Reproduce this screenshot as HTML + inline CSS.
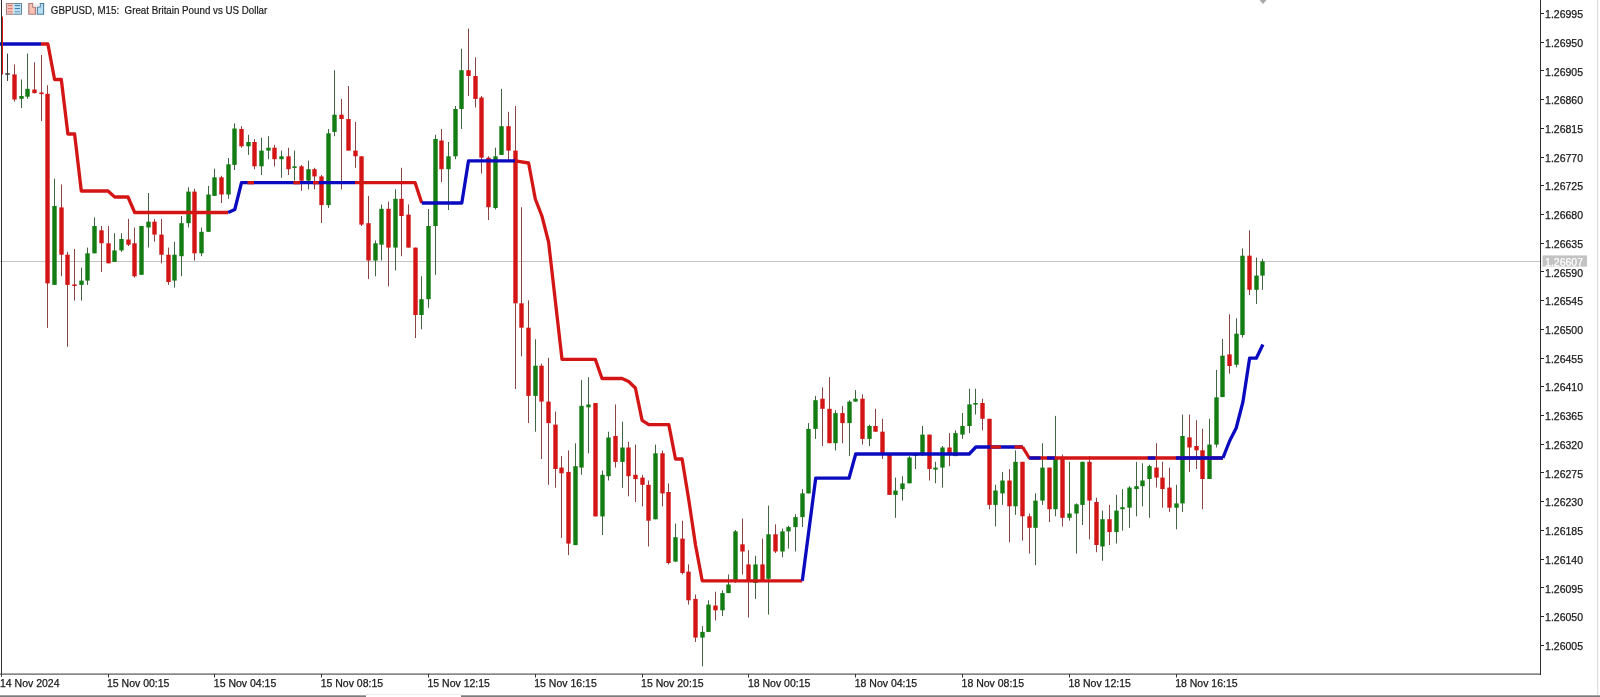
<!DOCTYPE html>
<html><head><meta charset="utf-8">
<style>
html,body{margin:0;padding:0;background:#fff;}
body{width:1600px;height:697px;overflow:hidden;position:relative;}
svg{position:absolute;left:0;top:0;will-change:transform;}
.t{font-family:"Liberation Sans",sans-serif;font-size:10.5px;fill:#1a1a1a;stroke:#1a1a1a;stroke-width:0.25px;}
.h{font-family:"Liberation Sans",sans-serif;font-size:10.5px;fill:#1a1a1a;stroke:#1a1a1a;stroke-width:0.2px;}
</style></head>
<body>
<svg width="1600" height="697" viewBox="0 0 1600 697">
<rect x="0" y="0" width="1600" height="697" fill="#ffffff"/>
<line x1="0" y1="261.5" x2="1540" y2="261.5" stroke="#c4c4c4" stroke-width="1"/>
<rect x="7" y="53.6" width="1" height="27.3" fill="#3a3a3a"/>
<rect x="5.30" y="73.2" width="4.4" height="1.6" fill="#3a3a3a"/>
<rect x="14" y="64.4" width="1" height="37.3" fill="#8a4444"/>
<rect x="12.30" y="74.4" width="4.4" height="25.1" fill="#d41515"/>
<rect x="21" y="79.5" width="1" height="28.5" fill="#436443"/>
<rect x="19.30" y="96.0" width="4.4" height="2.8" fill="#137c13"/>
<rect x="27" y="53.6" width="1" height="45.2" fill="#436443"/>
<rect x="25.30" y="88.8" width="4.4" height="7.9" fill="#137c13"/>
<rect x="34" y="62.2" width="1" height="31.2" fill="#8a4444"/>
<rect x="32.30" y="89.5" width="4.4" height="3.6" fill="#d41515"/>
<rect x="41" y="55.0" width="1" height="66.0" fill="#8a4444"/>
<rect x="39.30" y="92.5" width="4.4" height="1.6" fill="#d41515"/>
<rect x="47" y="85.2" width="1" height="242.7" fill="#8a4444"/>
<rect x="45.30" y="93.8" width="4.4" height="189.6" fill="#d41515"/>
<rect x="54" y="178.7" width="1" height="106.2" fill="#436443"/>
<rect x="52.30" y="206.0" width="4.4" height="78.9" fill="#137c13"/>
<rect x="61" y="184.4" width="1" height="91.9" fill="#8a4444"/>
<rect x="59.30" y="207.4" width="4.4" height="47.3" fill="#d41515"/>
<rect x="67" y="251.9" width="1" height="94.7" fill="#8a4444"/>
<rect x="65.30" y="254.7" width="4.4" height="30.2" fill="#d41515"/>
<rect x="74" y="249.0" width="1" height="51.6" fill="#8a4444"/>
<rect x="72.30" y="284.4" width="4.4" height="1.6" fill="#d41515"/>
<rect x="81" y="267.6" width="1" height="33.0" fill="#436443"/>
<rect x="79.30" y="280.6" width="4.4" height="4.3" fill="#137c13"/>
<rect x="87" y="247.6" width="1" height="37.3" fill="#436443"/>
<rect x="85.30" y="253.3" width="4.4" height="27.3" fill="#137c13"/>
<rect x="94" y="217.4" width="1" height="35.9" fill="#436443"/>
<rect x="92.30" y="226.0" width="4.4" height="27.3" fill="#137c13"/>
<rect x="101" y="226.0" width="1" height="46.0" fill="#8a4444"/>
<rect x="99.30" y="230.3" width="4.4" height="13.0" fill="#d41515"/>
<rect x="108" y="226.0" width="1" height="37.3" fill="#8a4444"/>
<rect x="106.30" y="243.3" width="4.4" height="20.0" fill="#d41515"/>
<rect x="114" y="233.2" width="1" height="28.7" fill="#436443"/>
<rect x="112.30" y="250.4" width="4.4" height="11.5" fill="#137c13"/>
<rect x="121" y="233.2" width="1" height="18.7" fill="#436443"/>
<rect x="119.30" y="239.0" width="4.4" height="11.4" fill="#137c13"/>
<rect x="128" y="218.9" width="1" height="27.1" fill="#8a4444"/>
<rect x="126.30" y="239.5" width="4.4" height="5.2" fill="#d41515"/>
<rect x="134" y="227.5" width="1" height="50.2" fill="#8a4444"/>
<rect x="132.30" y="243.3" width="4.4" height="33.0" fill="#d41515"/>
<rect x="141" y="226.0" width="1" height="48.8" fill="#436443"/>
<rect x="139.30" y="226.0" width="4.4" height="48.8" fill="#137c13"/>
<rect x="148" y="193.0" width="1" height="54.6" fill="#436443"/>
<rect x="146.30" y="221.7" width="4.4" height="5.8" fill="#137c13"/>
<rect x="154" y="218.9" width="1" height="22.9" fill="#8a4444"/>
<rect x="152.30" y="221.7" width="4.4" height="12.9" fill="#d41515"/>
<rect x="161" y="218.9" width="1" height="44.4" fill="#8a4444"/>
<rect x="159.30" y="234.6" width="4.4" height="20.1" fill="#d41515"/>
<rect x="168" y="247.6" width="1" height="37.3" fill="#8a4444"/>
<rect x="166.30" y="254.7" width="4.4" height="27.3" fill="#d41515"/>
<rect x="174" y="241.8" width="1" height="45.9" fill="#436443"/>
<rect x="172.30" y="254.7" width="4.4" height="25.9" fill="#137c13"/>
<rect x="181" y="216.0" width="1" height="60.3" fill="#436443"/>
<rect x="179.30" y="223.2" width="4.4" height="33.0" fill="#137c13"/>
<rect x="188" y="187.3" width="1" height="40.2" fill="#436443"/>
<rect x="186.30" y="191.6" width="4.4" height="31.6" fill="#137c13"/>
<rect x="194" y="188.7" width="1" height="71.8" fill="#8a4444"/>
<rect x="192.30" y="191.6" width="4.4" height="61.7" fill="#d41515"/>
<rect x="201" y="227.5" width="1" height="28.7" fill="#436443"/>
<rect x="199.30" y="231.8" width="4.4" height="21.5" fill="#137c13"/>
<rect x="208" y="185.9" width="1" height="45.9" fill="#436443"/>
<rect x="206.30" y="194.5" width="4.4" height="37.3" fill="#137c13"/>
<rect x="214" y="168.7" width="1" height="27.2" fill="#436443"/>
<rect x="212.30" y="177.3" width="4.4" height="18.6" fill="#137c13"/>
<rect x="221" y="175.8" width="1" height="27.2" fill="#8a4444"/>
<rect x="219.30" y="177.3" width="4.4" height="17.2" fill="#d41515"/>
<rect x="228" y="158.0" width="1" height="40.8" fill="#436443"/>
<rect x="226.30" y="164.3" width="4.4" height="30.2" fill="#137c13"/>
<rect x="234" y="123.3" width="1" height="46.7" fill="#436443"/>
<rect x="232.30" y="128.5" width="4.4" height="36.4" fill="#137c13"/>
<rect x="241" y="126.2" width="1" height="21.5" fill="#8a4444"/>
<rect x="239.30" y="129.0" width="4.4" height="17.3" fill="#d41515"/>
<rect x="248" y="134.8" width="1" height="20.1" fill="#436443"/>
<rect x="246.30" y="142.0" width="4.4" height="4.3" fill="#137c13"/>
<rect x="254" y="139.1" width="1" height="30.1" fill="#8a4444"/>
<rect x="252.30" y="142.0" width="4.4" height="24.3" fill="#d41515"/>
<rect x="261" y="137.6" width="1" height="37.4" fill="#436443"/>
<rect x="259.30" y="150.6" width="4.4" height="15.7" fill="#137c13"/>
<rect x="268" y="136.2" width="1" height="23.0" fill="#436443"/>
<rect x="266.30" y="147.7" width="4.4" height="2.9" fill="#137c13"/>
<rect x="274" y="144.8" width="1" height="21.5" fill="#8a4444"/>
<rect x="272.30" y="147.7" width="4.4" height="11.5" fill="#d41515"/>
<rect x="281" y="150.6" width="1" height="27.2" fill="#436443"/>
<rect x="279.30" y="156.3" width="4.4" height="2.9" fill="#137c13"/>
<rect x="288" y="147.7" width="1" height="27.3" fill="#8a4444"/>
<rect x="286.30" y="156.3" width="4.4" height="12.9" fill="#d41515"/>
<rect x="294" y="150.6" width="1" height="30.1" fill="#436443"/>
<rect x="292.30" y="166.3" width="4.4" height="1.6" fill="#137c13"/>
<rect x="301" y="164.9" width="1" height="25.8" fill="#8a4444"/>
<rect x="299.30" y="166.3" width="4.4" height="14.4" fill="#d41515"/>
<rect x="308" y="160.6" width="1" height="28.7" fill="#436443"/>
<rect x="306.30" y="169.2" width="4.4" height="11.5" fill="#137c13"/>
<rect x="314" y="167.8" width="1" height="21.5" fill="#8a4444"/>
<rect x="312.30" y="169.2" width="4.4" height="7.2" fill="#d41515"/>
<rect x="321" y="175.0" width="1" height="48.0" fill="#8a4444"/>
<rect x="319.30" y="176.4" width="4.4" height="28.7" fill="#d41515"/>
<rect x="328" y="129.0" width="1" height="79.0" fill="#436443"/>
<rect x="326.30" y="133.3" width="4.4" height="71.8" fill="#137c13"/>
<rect x="334" y="70.2" width="1" height="66.0" fill="#436443"/>
<rect x="332.30" y="114.7" width="4.4" height="17.2" fill="#137c13"/>
<rect x="341" y="98.9" width="1" height="90.4" fill="#8a4444"/>
<rect x="339.30" y="114.7" width="4.4" height="4.3" fill="#d41515"/>
<rect x="348" y="86.0" width="1" height="64.6" fill="#8a4444"/>
<rect x="346.30" y="119.0" width="4.4" height="31.6" fill="#d41515"/>
<rect x="355" y="121.9" width="1" height="45.9" fill="#8a4444"/>
<rect x="353.30" y="150.6" width="4.4" height="5.7" fill="#d41515"/>
<rect x="361" y="156.3" width="1" height="69.7" fill="#8a4444"/>
<rect x="359.30" y="156.3" width="4.4" height="68.3" fill="#d41515"/>
<rect x="368" y="195.9" width="1" height="83.2" fill="#8a4444"/>
<rect x="366.30" y="223.2" width="4.4" height="37.3" fill="#d41515"/>
<rect x="375" y="240.4" width="1" height="35.9" fill="#436443"/>
<rect x="373.30" y="243.3" width="4.4" height="17.2" fill="#137c13"/>
<rect x="381" y="204.5" width="1" height="56.0" fill="#436443"/>
<rect x="379.30" y="208.8" width="4.4" height="35.9" fill="#137c13"/>
<rect x="388" y="201.6" width="1" height="84.7" fill="#8a4444"/>
<rect x="386.30" y="208.8" width="4.4" height="38.8" fill="#d41515"/>
<rect x="395" y="189.3" width="1" height="81.2" fill="#436443"/>
<rect x="393.30" y="198.8" width="4.4" height="48.8" fill="#137c13"/>
<rect x="401" y="167.8" width="1" height="88.4" fill="#8a4444"/>
<rect x="399.30" y="198.8" width="4.4" height="17.2" fill="#d41515"/>
<rect x="408" y="204.5" width="1" height="43.1" fill="#8a4444"/>
<rect x="406.30" y="214.6" width="4.4" height="33.0" fill="#d41515"/>
<rect x="415" y="247.6" width="1" height="90.4" fill="#8a4444"/>
<rect x="413.30" y="247.6" width="4.4" height="67.4" fill="#d41515"/>
<rect x="421" y="276.3" width="1" height="53.0" fill="#436443"/>
<rect x="419.30" y="299.2" width="4.4" height="15.8" fill="#137c13"/>
<rect x="428" y="209.0" width="1" height="98.8" fill="#436443"/>
<rect x="426.30" y="226.0" width="4.4" height="73.2" fill="#137c13"/>
<rect x="435" y="134.8" width="1" height="140.0" fill="#436443"/>
<rect x="433.30" y="139.0" width="4.4" height="87.0" fill="#137c13"/>
<rect x="441" y="129.0" width="1" height="53.1" fill="#8a4444"/>
<rect x="439.30" y="140.5" width="4.4" height="28.7" fill="#d41515"/>
<rect x="448" y="142.0" width="1" height="68.0" fill="#436443"/>
<rect x="446.30" y="156.3" width="4.4" height="12.9" fill="#137c13"/>
<rect x="455" y="106.0" width="1" height="53.2" fill="#436443"/>
<rect x="453.30" y="109.0" width="4.4" height="47.3" fill="#137c13"/>
<rect x="461" y="48.7" width="1" height="80.3" fill="#436443"/>
<rect x="459.30" y="70.2" width="4.4" height="38.8" fill="#137c13"/>
<rect x="468" y="28.6" width="1" height="67.4" fill="#8a4444"/>
<rect x="466.30" y="70.2" width="4.4" height="5.8" fill="#d41515"/>
<rect x="475" y="57.3" width="1" height="50.2" fill="#8a4444"/>
<rect x="473.30" y="76.0" width="4.4" height="22.9" fill="#d41515"/>
<rect x="481" y="96.0" width="1" height="77.5" fill="#8a4444"/>
<rect x="479.30" y="97.5" width="4.4" height="60.2" fill="#d41515"/>
<rect x="488" y="156.3" width="1" height="63.7" fill="#8a4444"/>
<rect x="486.30" y="157.7" width="4.4" height="49.5" fill="#d41515"/>
<rect x="495" y="147.7" width="1" height="61.7" fill="#436443"/>
<rect x="493.30" y="156.3" width="4.4" height="51.7" fill="#137c13"/>
<rect x="501" y="88.9" width="1" height="66.0" fill="#436443"/>
<rect x="499.30" y="126.2" width="4.4" height="28.7" fill="#137c13"/>
<rect x="508" y="111.8" width="1" height="48.8" fill="#8a4444"/>
<rect x="506.30" y="126.2" width="4.4" height="24.4" fill="#d41515"/>
<rect x="515" y="106.0" width="1" height="283.0" fill="#8a4444"/>
<rect x="513.30" y="150.6" width="4.4" height="152.7" fill="#d41515"/>
<rect x="521" y="207.2" width="1" height="149.2" fill="#8a4444"/>
<rect x="519.30" y="303.3" width="4.4" height="24.4" fill="#d41515"/>
<rect x="528" y="300.4" width="1" height="122.7" fill="#8a4444"/>
<rect x="526.30" y="327.7" width="4.4" height="68.2" fill="#d41515"/>
<rect x="535" y="339.2" width="1" height="92.5" fill="#436443"/>
<rect x="533.30" y="365.7" width="4.4" height="30.2" fill="#137c13"/>
<rect x="541" y="363.6" width="1" height="95.4" fill="#8a4444"/>
<rect x="539.30" y="365.7" width="4.4" height="35.9" fill="#d41515"/>
<rect x="548" y="357.8" width="1" height="127.0" fill="#8a4444"/>
<rect x="546.30" y="401.6" width="4.4" height="21.5" fill="#d41515"/>
<rect x="555" y="411.6" width="1" height="76.1" fill="#8a4444"/>
<rect x="553.30" y="424.6" width="4.4" height="44.4" fill="#d41515"/>
<rect x="561" y="456.1" width="1" height="81.8" fill="#8a4444"/>
<rect x="559.30" y="467.6" width="4.4" height="5.7" fill="#d41515"/>
<rect x="568" y="450.4" width="1" height="104.7" fill="#8a4444"/>
<rect x="566.30" y="471.9" width="4.4" height="71.7" fill="#d41515"/>
<rect x="575" y="443.2" width="1" height="101.9" fill="#436443"/>
<rect x="573.30" y="466.2" width="4.4" height="78.9" fill="#137c13"/>
<rect x="581" y="380.1" width="1" height="94.7" fill="#436443"/>
<rect x="579.30" y="405.9" width="4.4" height="61.7" fill="#137c13"/>
<rect x="588" y="377.2" width="1" height="76.1" fill="#436443"/>
<rect x="586.30" y="404.5" width="4.4" height="2.8" fill="#137c13"/>
<rect x="595" y="403.0" width="1" height="113.4" fill="#8a4444"/>
<rect x="593.30" y="403.0" width="4.4" height="113.4" fill="#d41515"/>
<rect x="602" y="470.5" width="1" height="64.5" fill="#436443"/>
<rect x="600.30" y="474.8" width="4.4" height="41.6" fill="#137c13"/>
<rect x="608" y="431.7" width="1" height="48.8" fill="#436443"/>
<rect x="606.30" y="437.5" width="4.4" height="38.7" fill="#137c13"/>
<rect x="615" y="404.5" width="1" height="63.1" fill="#8a4444"/>
<rect x="613.30" y="436.0" width="4.4" height="25.9" fill="#d41515"/>
<rect x="622" y="421.7" width="1" height="66.0" fill="#436443"/>
<rect x="620.30" y="447.5" width="4.4" height="14.4" fill="#137c13"/>
<rect x="628" y="441.8" width="1" height="54.5" fill="#8a4444"/>
<rect x="626.30" y="447.5" width="4.4" height="28.7" fill="#d41515"/>
<rect x="635" y="444.6" width="1" height="57.4" fill="#8a4444"/>
<rect x="633.30" y="474.8" width="4.4" height="4.3" fill="#d41515"/>
<rect x="642" y="474.8" width="1" height="31.5" fill="#8a4444"/>
<rect x="640.30" y="477.6" width="4.4" height="7.2" fill="#d41515"/>
<rect x="648" y="480.5" width="1" height="66.0" fill="#8a4444"/>
<rect x="646.30" y="484.8" width="4.4" height="35.9" fill="#d41515"/>
<rect x="655" y="444.6" width="1" height="74.7" fill="#436443"/>
<rect x="653.30" y="453.3" width="4.4" height="66.0" fill="#137c13"/>
<rect x="662" y="450.4" width="1" height="55.9" fill="#8a4444"/>
<rect x="660.30" y="453.3" width="4.4" height="40.1" fill="#d41515"/>
<rect x="668" y="483.4" width="1" height="81.0" fill="#8a4444"/>
<rect x="666.30" y="492.0" width="4.4" height="71.0" fill="#d41515"/>
<rect x="675" y="523.6" width="1" height="38.0" fill="#436443"/>
<rect x="673.30" y="537.2" width="4.4" height="24.4" fill="#137c13"/>
<rect x="682" y="520.7" width="1" height="53.8" fill="#8a4444"/>
<rect x="680.30" y="538.6" width="4.4" height="34.4" fill="#d41515"/>
<rect x="688" y="564.4" width="1" height="40.2" fill="#8a4444"/>
<rect x="686.30" y="571.6" width="4.4" height="28.7" fill="#d41515"/>
<rect x="695" y="594.6" width="1" height="47.3" fill="#8a4444"/>
<rect x="693.30" y="598.9" width="4.4" height="38.7" fill="#d41515"/>
<rect x="702" y="626.1" width="1" height="40.2" fill="#436443"/>
<rect x="700.30" y="631.9" width="4.4" height="5.7" fill="#137c13"/>
<rect x="708" y="600.3" width="1" height="31.6" fill="#436443"/>
<rect x="706.30" y="604.6" width="4.4" height="27.3" fill="#137c13"/>
<rect x="715" y="591.7" width="1" height="28.7" fill="#8a4444"/>
<rect x="713.30" y="605.5" width="4.4" height="4.8" fill="#d41515"/>
<rect x="722" y="590.3" width="1" height="25.8" fill="#436443"/>
<rect x="720.30" y="593.1" width="4.4" height="17.2" fill="#137c13"/>
<rect x="728" y="574.5" width="1" height="18.6" fill="#436443"/>
<rect x="726.30" y="584.5" width="4.4" height="8.6" fill="#137c13"/>
<rect x="735" y="530.0" width="1" height="53.0" fill="#436443"/>
<rect x="733.30" y="531.4" width="4.4" height="50.2" fill="#137c13"/>
<rect x="742" y="518.5" width="1" height="56.0" fill="#8a4444"/>
<rect x="740.30" y="544.3" width="4.4" height="7.2" fill="#d41515"/>
<rect x="748" y="550.1" width="1" height="67.4" fill="#8a4444"/>
<rect x="746.30" y="564.4" width="4.4" height="17.2" fill="#d41515"/>
<rect x="755" y="555.8" width="1" height="43.1" fill="#436443"/>
<rect x="753.30" y="564.4" width="4.4" height="18.6" fill="#137c13"/>
<rect x="762" y="538.6" width="1" height="43.0" fill="#8a4444"/>
<rect x="760.30" y="564.4" width="4.4" height="17.2" fill="#d41515"/>
<rect x="768" y="505.6" width="1" height="109.0" fill="#436443"/>
<rect x="766.30" y="534.3" width="4.4" height="44.5" fill="#137c13"/>
<rect x="775" y="524.3" width="1" height="28.7" fill="#8a4444"/>
<rect x="773.30" y="534.3" width="4.4" height="17.2" fill="#d41515"/>
<rect x="782" y="528.6" width="1" height="28.7" fill="#436443"/>
<rect x="780.30" y="531.4" width="4.4" height="20.1" fill="#137c13"/>
<rect x="788" y="525.7" width="1" height="22.9" fill="#436443"/>
<rect x="786.30" y="527.1" width="4.4" height="4.3" fill="#137c13"/>
<rect x="795" y="514.2" width="1" height="37.3" fill="#436443"/>
<rect x="793.30" y="517.1" width="4.4" height="10.0" fill="#137c13"/>
<rect x="802" y="489.1" width="1" height="38.0" fill="#436443"/>
<rect x="800.30" y="493.4" width="4.4" height="23.7" fill="#137c13"/>
<rect x="808" y="423.1" width="1" height="70.3" fill="#436443"/>
<rect x="806.30" y="428.9" width="4.4" height="64.5" fill="#137c13"/>
<rect x="815" y="395.9" width="1" height="43.0" fill="#436443"/>
<rect x="813.30" y="400.2" width="4.4" height="28.7" fill="#137c13"/>
<rect x="822" y="387.3" width="1" height="58.7" fill="#8a4444"/>
<rect x="820.30" y="398.7" width="4.4" height="10.1" fill="#d41515"/>
<rect x="829" y="377.2" width="1" height="66.0" fill="#8a4444"/>
<rect x="827.30" y="408.8" width="4.4" height="34.4" fill="#d41515"/>
<rect x="835" y="410.2" width="1" height="40.2" fill="#436443"/>
<rect x="833.30" y="413.1" width="4.4" height="30.1" fill="#137c13"/>
<rect x="842" y="405.9" width="1" height="37.3" fill="#8a4444"/>
<rect x="840.30" y="413.1" width="4.4" height="10.0" fill="#d41515"/>
<rect x="849" y="400.2" width="1" height="55.9" fill="#436443"/>
<rect x="847.30" y="401.6" width="4.4" height="21.5" fill="#137c13"/>
<rect x="855" y="390.1" width="1" height="11.5" fill="#436443"/>
<rect x="853.30" y="398.7" width="4.4" height="2.9" fill="#137c13"/>
<rect x="862" y="394.4" width="1" height="50.2" fill="#8a4444"/>
<rect x="860.30" y="398.7" width="4.4" height="40.2" fill="#d41515"/>
<rect x="869" y="424.6" width="1" height="21.4" fill="#436443"/>
<rect x="867.30" y="426.0" width="4.4" height="12.9" fill="#137c13"/>
<rect x="875" y="408.8" width="1" height="22.9" fill="#8a4444"/>
<rect x="873.30" y="426.0" width="4.4" height="5.7" fill="#d41515"/>
<rect x="882" y="418.8" width="1" height="40.2" fill="#8a4444"/>
<rect x="880.30" y="431.7" width="4.4" height="23.0" fill="#d41515"/>
<rect x="889" y="454.7" width="1" height="40.2" fill="#8a4444"/>
<rect x="887.30" y="454.7" width="4.4" height="40.2" fill="#d41515"/>
<rect x="895" y="477.6" width="1" height="40.2" fill="#436443"/>
<rect x="893.30" y="490.6" width="4.4" height="4.3" fill="#137c13"/>
<rect x="902" y="476.2" width="1" height="24.4" fill="#436443"/>
<rect x="900.30" y="483.4" width="4.4" height="5.7" fill="#137c13"/>
<rect x="909" y="456.1" width="1" height="27.2" fill="#436443"/>
<rect x="907.30" y="457.5" width="4.4" height="25.8" fill="#137c13"/>
<rect x="915" y="454.0" width="1" height="15.0" fill="#436443"/>
<rect x="913.30" y="454.0" width="4.4" height="2.0" fill="#137c13"/>
<rect x="922" y="426.0" width="1" height="30.0" fill="#436443"/>
<rect x="920.30" y="434.6" width="4.4" height="20.0" fill="#137c13"/>
<rect x="929" y="434.6" width="1" height="45.9" fill="#8a4444"/>
<rect x="927.30" y="434.6" width="4.4" height="34.4" fill="#d41515"/>
<rect x="935" y="461.8" width="1" height="21.5" fill="#436443"/>
<rect x="933.30" y="467.6" width="4.4" height="2.0" fill="#137c13"/>
<rect x="942" y="446.0" width="1" height="41.6" fill="#436443"/>
<rect x="940.30" y="447.5" width="4.4" height="20.1" fill="#137c13"/>
<rect x="949" y="433.1" width="1" height="33.0" fill="#8a4444"/>
<rect x="947.30" y="447.5" width="4.4" height="7.1" fill="#d41515"/>
<rect x="955" y="430.3" width="1" height="25.8" fill="#436443"/>
<rect x="953.30" y="433.1" width="4.4" height="23.0" fill="#137c13"/>
<rect x="962" y="413.0" width="1" height="25.9" fill="#436443"/>
<rect x="960.30" y="426.0" width="4.4" height="8.6" fill="#137c13"/>
<rect x="969" y="388.7" width="1" height="44.4" fill="#436443"/>
<rect x="967.30" y="404.4" width="4.4" height="21.6" fill="#137c13"/>
<rect x="975" y="388.7" width="1" height="25.8" fill="#436443"/>
<rect x="973.30" y="403.0" width="4.4" height="1.6" fill="#137c13"/>
<rect x="982" y="398.7" width="1" height="31.6" fill="#8a4444"/>
<rect x="980.30" y="403.0" width="4.4" height="15.8" fill="#d41515"/>
<rect x="989" y="418.8" width="1" height="90.4" fill="#8a4444"/>
<rect x="987.30" y="418.8" width="4.4" height="86.1" fill="#d41515"/>
<rect x="995" y="484.8" width="1" height="41.6" fill="#436443"/>
<rect x="993.30" y="490.5" width="4.4" height="14.4" fill="#137c13"/>
<rect x="1002" y="471.9" width="1" height="33.0" fill="#436443"/>
<rect x="1000.30" y="480.5" width="4.4" height="12.9" fill="#137c13"/>
<rect x="1009" y="469.0" width="1" height="73.2" fill="#8a4444"/>
<rect x="1007.30" y="480.5" width="4.4" height="25.8" fill="#d41515"/>
<rect x="1015" y="450.3" width="1" height="64.6" fill="#436443"/>
<rect x="1013.30" y="461.8" width="4.4" height="44.5" fill="#137c13"/>
<rect x="1022" y="461.8" width="1" height="78.9" fill="#8a4444"/>
<rect x="1020.30" y="461.8" width="4.4" height="54.5" fill="#d41515"/>
<rect x="1029" y="513.5" width="1" height="40.1" fill="#8a4444"/>
<rect x="1027.30" y="516.3" width="4.4" height="11.5" fill="#d41515"/>
<rect x="1035" y="493.4" width="1" height="71.7" fill="#436443"/>
<rect x="1033.30" y="500.6" width="4.4" height="27.2" fill="#137c13"/>
<rect x="1042" y="443.2" width="1" height="61.7" fill="#436443"/>
<rect x="1040.30" y="467.6" width="4.4" height="33.0" fill="#137c13"/>
<rect x="1049" y="467.6" width="1" height="54.5" fill="#8a4444"/>
<rect x="1047.30" y="467.6" width="4.4" height="41.6" fill="#d41515"/>
<rect x="1055" y="415.9" width="1" height="100.4" fill="#436443"/>
<rect x="1053.30" y="459.0" width="4.4" height="50.2" fill="#137c13"/>
<rect x="1062" y="454.6" width="1" height="71.8" fill="#8a4444"/>
<rect x="1060.30" y="457.5" width="4.4" height="60.3" fill="#d41515"/>
<rect x="1069" y="461.8" width="1" height="58.8" fill="#436443"/>
<rect x="1067.30" y="513.5" width="4.4" height="4.3" fill="#137c13"/>
<rect x="1076" y="503.4" width="1" height="50.2" fill="#436443"/>
<rect x="1074.30" y="504.3" width="4.4" height="9.2" fill="#137c13"/>
<rect x="1082" y="461.8" width="1" height="63.2" fill="#436443"/>
<rect x="1080.30" y="461.8" width="4.4" height="43.1" fill="#137c13"/>
<rect x="1089" y="456.1" width="1" height="83.2" fill="#8a4444"/>
<rect x="1087.30" y="461.8" width="4.4" height="38.8" fill="#d41515"/>
<rect x="1096" y="497.7" width="1" height="54.5" fill="#8a4444"/>
<rect x="1094.30" y="502.0" width="4.4" height="43.0" fill="#d41515"/>
<rect x="1102" y="510.6" width="1" height="50.2" fill="#436443"/>
<rect x="1100.30" y="519.2" width="4.4" height="27.3" fill="#137c13"/>
<rect x="1109" y="504.9" width="1" height="40.1" fill="#8a4444"/>
<rect x="1107.30" y="519.2" width="4.4" height="12.9" fill="#d41515"/>
<rect x="1116" y="494.8" width="1" height="48.8" fill="#436443"/>
<rect x="1114.30" y="510.6" width="4.4" height="21.5" fill="#137c13"/>
<rect x="1122" y="489.1" width="1" height="41.6" fill="#436443"/>
<rect x="1120.30" y="507.2" width="4.4" height="2.0" fill="#137c13"/>
<rect x="1129" y="486.2" width="1" height="41.6" fill="#436443"/>
<rect x="1127.30" y="487.6" width="4.4" height="20.1" fill="#137c13"/>
<rect x="1136" y="461.8" width="1" height="54.5" fill="#436443"/>
<rect x="1134.30" y="486.2" width="4.4" height="2.9" fill="#137c13"/>
<rect x="1142" y="463.3" width="1" height="43.0" fill="#436443"/>
<rect x="1140.30" y="480.5" width="4.4" height="5.7" fill="#137c13"/>
<rect x="1149" y="464.7" width="1" height="53.1" fill="#436443"/>
<rect x="1147.30" y="466.1" width="4.4" height="12.9" fill="#137c13"/>
<rect x="1156" y="443.2" width="1" height="44.4" fill="#8a4444"/>
<rect x="1154.30" y="467.6" width="4.4" height="10.0" fill="#d41515"/>
<rect x="1162" y="461.8" width="1" height="45.9" fill="#8a4444"/>
<rect x="1160.30" y="477.6" width="4.4" height="11.5" fill="#d41515"/>
<rect x="1169" y="467.6" width="1" height="44.4" fill="#8a4444"/>
<rect x="1167.30" y="487.6" width="4.4" height="20.1" fill="#d41515"/>
<rect x="1176" y="484.8" width="1" height="44.5" fill="#436443"/>
<rect x="1174.30" y="503.4" width="4.4" height="4.3" fill="#137c13"/>
<rect x="1182" y="414.5" width="1" height="97.5" fill="#436443"/>
<rect x="1180.30" y="436.0" width="4.4" height="67.4" fill="#137c13"/>
<rect x="1189" y="414.5" width="1" height="57.4" fill="#8a4444"/>
<rect x="1187.30" y="437.4" width="4.4" height="10.1" fill="#d41515"/>
<rect x="1196" y="420.2" width="1" height="48.8" fill="#8a4444"/>
<rect x="1194.30" y="446.0" width="4.4" height="4.3" fill="#d41515"/>
<rect x="1202" y="428.8" width="1" height="80.4" fill="#8a4444"/>
<rect x="1200.30" y="450.3" width="4.4" height="28.7" fill="#d41515"/>
<rect x="1209" y="418.8" width="1" height="60.2" fill="#436443"/>
<rect x="1207.30" y="444.6" width="4.4" height="34.4" fill="#137c13"/>
<rect x="1216" y="369.9" width="1" height="77.6" fill="#436443"/>
<rect x="1214.30" y="397.3" width="4.4" height="47.3" fill="#137c13"/>
<rect x="1222" y="338.9" width="1" height="58.4" fill="#436443"/>
<rect x="1220.30" y="355.7" width="4.4" height="41.3" fill="#137c13"/>
<rect x="1229" y="314.3" width="1" height="59.4" fill="#8a4444"/>
<rect x="1227.30" y="354.4" width="4.4" height="11.6" fill="#d41515"/>
<rect x="1236" y="318.2" width="1" height="49.1" fill="#436443"/>
<rect x="1234.30" y="333.7" width="4.4" height="31.0" fill="#137c13"/>
<rect x="1242" y="248.4" width="1" height="89.2" fill="#436443"/>
<rect x="1240.30" y="255.7" width="4.4" height="79.3" fill="#137c13"/>
<rect x="1249" y="230.3" width="1" height="64.6" fill="#8a4444"/>
<rect x="1247.30" y="255.7" width="4.4" height="34.1" fill="#d41515"/>
<rect x="1256" y="257.5" width="1" height="46.5" fill="#436443"/>
<rect x="1254.30" y="275.6" width="4.4" height="14.2" fill="#137c13"/>
<rect x="1262" y="258.8" width="1" height="31.0" fill="#436443"/>
<rect x="1260.30" y="261.3" width="4.4" height="14.3" fill="#137c13"/>
<polyline points="0.0,44.0 41.0,44.0" fill="none" stroke="#0a0ac0" stroke-width="3.3" stroke-linejoin="round" stroke-linecap="butt" />
<polyline points="41.0,44.0 47.9,44.0 54.6,79.5 61.3,79.5 67.9,134.0 74.6,134.0 81.3,191.0 108.0,191.0 114.7,197.0 128.0,197.0 134.7,212.5 228.2,212.5" fill="none" stroke="#d41515" stroke-width="3.3" stroke-linejoin="round" stroke-linecap="butt" />
<polyline points="228.2,212.5 234.8,209.5 241.5,182.7 355.0,182.7" fill="none" stroke="#0a0ac0" stroke-width="3.3" stroke-linejoin="round" stroke-linecap="butt" />
<line x1="247.5" y1="182.7" x2="254" y2="182.7" stroke="#d41515" stroke-width="3.3"/>
<line x1="293.4" y1="182.7" x2="300" y2="182.7" stroke="#d41515" stroke-width="3.3"/>
<line x1="313" y1="182.7" x2="318.7" y2="182.7" stroke="#d41515" stroke-width="3.3"/>
<polyline points="355.0,182.7 415.1,182.7 421.8,203.0" fill="none" stroke="#d41515" stroke-width="3.3" stroke-linejoin="round" stroke-linecap="butt" />
<polyline points="421.8,203.0 461.8,203.0 468.5,160.8 515.2,160.8" fill="none" stroke="#0a0ac0" stroke-width="3.3" stroke-linejoin="round" stroke-linecap="butt" />
<polyline points="515.2,160.8 528.6,163.0 535.3,199.0 541.9,216.0 548.6,242.0 562.0,359.3 595.3,359.3 602.0,378.5 622.1,378.5 628.7,381.5 635.4,388.0 642.1,420.3 648.8,424.6 668.8,424.6 675.5,459.0 682.1,459.0 688.8,500.0 695.5,545.0 702.2,580.8 802.3,580.8" fill="none" stroke="#d41515" stroke-width="3.3" stroke-linejoin="round" stroke-linecap="butt" />
<polyline points="802.3,580.8 815.7,478.2 849.0,478.2 855.7,454.0 969.2,454.0 975.9,447.0 1022.6,447.0" fill="none" stroke="#0a0ac0" stroke-width="3.3" stroke-linejoin="round" stroke-linecap="butt" />
<line x1="990.5" y1="447" x2="1001" y2="447" stroke="#d41515" stroke-width="3.3"/>
<line x1="1014.5" y1="447" x2="1023" y2="447" stroke="#d41515" stroke-width="3.3"/>
<polyline points="1022.6,447.0 1029.3,458.0 1222.9,458.0" fill="none" stroke="#d41515" stroke-width="3.3" stroke-linejoin="round" stroke-linecap="butt" />
<line x1="1029.4" y1="458" x2="1040.6" y2="458" stroke="#0a0ac0" stroke-width="3.3"/>
<line x1="1047" y1="458" x2="1054.7" y2="458" stroke="#0a0ac0" stroke-width="3.3"/>
<line x1="1147.8" y1="458" x2="1155.3" y2="458" stroke="#0a0ac0" stroke-width="3.3"/>
<line x1="1175.9" y1="458" x2="1222.8919999999998" y2="458" stroke="#0a0ac0" stroke-width="3.3"/>
<polyline points="1222.9,458.0 1229.6,441.0 1236.2,428.0 1242.9,402.0 1249.6,358.2 1256.3,358.2 1262.9,344.5" fill="none" stroke="#0a0ac0" stroke-width="3.3" stroke-linejoin="round" stroke-linecap="butt" />
<rect x="1.4" y="16.5" width="1.6" height="58" fill="#d41515"/>
<rect x="1" y="0" width="1" height="677" fill="#2e2e2e"/>
<rect x="0" y="673.5" width="1541" height="1.2" fill="#555"/>
<rect x="1540" y="0" width="1" height="675" fill="#2e2e2e"/>
<rect x="1597" y="0" width="1.2" height="695" fill="#dcdcdc"/>
<rect x="1541" y="13" width="3" height="1" fill="#2a2a2a"/>
<text x="1545.1" y="18.10" class="t">1.26995</text>
<rect x="1541" y="42" width="3" height="1" fill="#2a2a2a"/>
<text x="1545.1" y="46.82" class="t">1.26950</text>
<rect x="1541" y="70" width="3" height="1" fill="#2a2a2a"/>
<text x="1545.1" y="75.54" class="t">1.26905</text>
<rect x="1541" y="99" width="3" height="1" fill="#2a2a2a"/>
<text x="1545.1" y="104.26" class="t">1.26860</text>
<rect x="1541" y="128" width="3" height="1" fill="#2a2a2a"/>
<text x="1545.1" y="132.98" class="t">1.26815</text>
<rect x="1541" y="157" width="3" height="1" fill="#2a2a2a"/>
<text x="1545.1" y="161.70" class="t">1.26770</text>
<rect x="1541" y="185" width="3" height="1" fill="#2a2a2a"/>
<text x="1545.1" y="190.42" class="t">1.26725</text>
<rect x="1541" y="214" width="3" height="1" fill="#2a2a2a"/>
<text x="1545.1" y="219.14" class="t">1.26680</text>
<rect x="1541" y="243" width="3" height="1" fill="#2a2a2a"/>
<text x="1545.1" y="247.86" class="t">1.26635</text>
<rect x="1541" y="271" width="3" height="1" fill="#2a2a2a"/>
<text x="1545.1" y="276.58" class="t">1.26590</text>
<rect x="1541" y="300" width="3" height="1" fill="#2a2a2a"/>
<text x="1545.1" y="305.30" class="t">1.26545</text>
<rect x="1541" y="329" width="3" height="1" fill="#2a2a2a"/>
<text x="1545.1" y="334.02" class="t">1.26500</text>
<rect x="1541" y="358" width="3" height="1" fill="#2a2a2a"/>
<text x="1545.1" y="362.74" class="t">1.26455</text>
<rect x="1541" y="386" width="3" height="1" fill="#2a2a2a"/>
<text x="1545.1" y="391.46" class="t">1.26410</text>
<rect x="1541" y="415" width="3" height="1" fill="#2a2a2a"/>
<text x="1545.1" y="420.18" class="t">1.26365</text>
<rect x="1541" y="444" width="3" height="1" fill="#2a2a2a"/>
<text x="1545.1" y="448.90" class="t">1.26320</text>
<rect x="1541" y="472" width="3" height="1" fill="#2a2a2a"/>
<text x="1545.1" y="477.62" class="t">1.26275</text>
<rect x="1541" y="501" width="3" height="1" fill="#2a2a2a"/>
<text x="1545.1" y="506.34" class="t">1.26230</text>
<rect x="1541" y="530" width="3" height="1" fill="#2a2a2a"/>
<text x="1545.1" y="535.06" class="t">1.26185</text>
<rect x="1541" y="559" width="3" height="1" fill="#2a2a2a"/>
<text x="1545.1" y="563.78" class="t">1.26140</text>
<rect x="1541" y="587" width="3" height="1" fill="#2a2a2a"/>
<text x="1545.1" y="592.50" class="t">1.26095</text>
<rect x="1541" y="616" width="3" height="1" fill="#2a2a2a"/>
<text x="1545.1" y="621.22" class="t">1.26050</text>
<rect x="1541" y="645" width="3" height="1" fill="#2a2a2a"/>
<text x="1545.1" y="649.94" class="t">1.26005</text>
<rect x="1542.5" y="255.4" width="44.5" height="11.2" fill="#c3c3c3"/>
<text x="1545.1" y="265.6" class="t" style="fill:#ffffff;stroke:#ffffff">1.26607</text>
<text x="0" y="687.2" class="t">14 Nov 2024</text>
<rect x="108" y="674" width="1" height="3.5" fill="#333"/>
<text x="107.00" y="687.2" class="t">15 Nov 00:15</text>
<rect x="214" y="674" width="1" height="3.5" fill="#333"/>
<text x="213.82" y="687.2" class="t">15 Nov 04:15</text>
<rect x="321" y="674" width="1" height="3.5" fill="#333"/>
<text x="320.64" y="687.2" class="t">15 Nov 08:15</text>
<rect x="428" y="674" width="1" height="3.5" fill="#333"/>
<text x="427.46" y="687.2" class="t">15 Nov 12:15</text>
<rect x="535" y="674" width="1" height="3.5" fill="#333"/>
<text x="534.28" y="687.2" class="t">15 Nov 16:15</text>
<rect x="642" y="674" width="1" height="3.5" fill="#333"/>
<text x="641.10" y="687.2" class="t">15 Nov 20:15</text>
<rect x="748" y="674" width="1" height="3.5" fill="#333"/>
<text x="747.92" y="687.2" class="t">18 Nov 00:15</text>
<rect x="855" y="674" width="1" height="3.5" fill="#333"/>
<text x="854.74" y="687.2" class="t">18 Nov 04:15</text>
<rect x="962" y="674" width="1" height="3.5" fill="#333"/>
<text x="961.56" y="687.2" class="t">18 Nov 08:15</text>
<rect x="1069" y="674" width="1" height="3.5" fill="#333"/>
<text x="1068.38" y="687.2" class="t">18 Nov 12:15</text>
<rect x="1176" y="674" width="1" height="3.5" fill="#333"/>
<text x="1175.20" y="687.2" class="t">18 Nov 16:15</text>
<rect x="1" y="674" width="1" height="3" fill="#444"/>
<rect x="0" y="695.3" width="366" height="1.7" fill="#7c7c7c"/>
<rect x="461" y="695.3" width="1139" height="1.7" fill="#7c7c7c"/>
<rect x="366" y="694" width="95" height="1" fill="#ececec"/>
<polygon points="1259.5,0 1266.5,0 1263,4" fill="#a8a8a8"/>

<g>
 <rect x="6.5" y="3.5" width="7" height="10.8" fill="#f4c4bc"/>
 <rect x="13.5" y="3.5" width="8" height="10.8" fill="#bfe2f4"/>
 <path d="M13.5,3.5 H6.5 V14.3 H13.5" fill="none" stroke="#a08080" stroke-width="1.1"/>
 <path d="M13.5,3.5 H21.5 V14.3 H13.5" fill="none" stroke="#62889e" stroke-width="1.1"/>
 <rect x="8" y="5" width="4.5" height="1.1" fill="#d67a70"/>
 <rect x="8" y="8" width="4.5" height="1.1" fill="#d67a70"/>
 <rect x="8" y="11.2" width="4.5" height="1.1" fill="#d68a80"/>
 <rect x="14.8" y="5" width="5.2" height="1.1" fill="#3f7fae"/>
 <rect x="14.8" y="8" width="5.2" height="1.1" fill="#3f7fae"/>
 <rect x="14.8" y="11.2" width="5.2" height="1.1" fill="#6a9ab8"/>
 <polygon points="28.8,3.5 32.8,3.5 32.8,7.2 35.4,7.2 35.4,14.3 28.8,14.3" fill="#f6c2b4" stroke="#b07878" stroke-width="1.1"/>
 <polygon points="40.2,3.5 43.6,3.5 43.6,14.3 37.3,14.3 37.3,7 40.2,7" fill="#b8def4" stroke="#4a7c9e" stroke-width="1.1"/>
 <rect x="33.6" y="3.8" width="6" height="2.6" fill="#efefef"/>
</g>

<text x="50.8" y="13.8" class="h" textLength="216.5" lengthAdjust="spacingAndGlyphs">GBPUSD, M15:&#160; Great Britain Pound vs US Dollar</text>
</svg>
</body></html>
